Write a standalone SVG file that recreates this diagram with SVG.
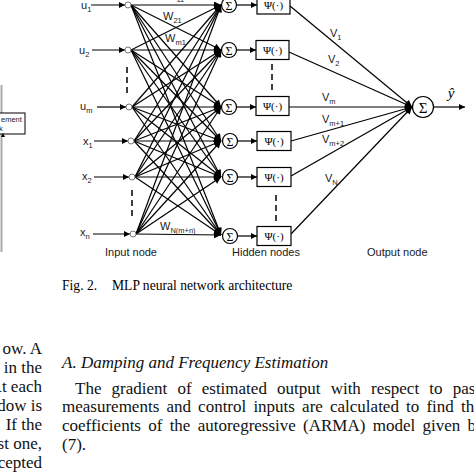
<svg xmlns="http://www.w3.org/2000/svg" width="474" height="474" viewBox="0 0 474 474">
<defs>
<style>
.ln{stroke:#000;stroke-width:1.2;fill:none}
.sans{font-family:"Liberation Sans",Arial,sans-serif;font-size:11px;fill:#1a1a1a}
.ser{font-family:"Liberation Serif","Times New Roman",serif;fill:#000}
.in{fill:#fff;stroke:#777;stroke-width:1}
.hc{fill:#fff;stroke:#000;stroke-width:1.2}
.box{fill:#fff;stroke:#000;stroke-width:1.2}
.dash{stroke:#000;stroke-width:1.5;stroke-dasharray:6 4;fill:none}
.body{font-family:"Liberation Serif","Times New Roman",serif;font-size:17px;fill:#111}
</style>
<marker id="ah" viewBox="0 0 10 10" refX="10" refY="5" markerWidth="8" markerHeight="6" markerUnits="userSpaceOnUse" orient="auto"><path d="M0,0 L10,5 L0,10 z" fill="#000"/></marker>
<marker id="ahb" viewBox="0 0 10 10" refX="10" refY="5" markerWidth="9" markerHeight="7" markerUnits="userSpaceOnUse" orient="auto"><path d="M0,0 L10,5 L0,10 z" fill="#000"/></marker>
</defs>
<rect width="474" height="474" fill="#fff"/>

<!-- left cut-off fragment -->
<g id="fragment">
<line x1="1.5" y1="85" x2="1.5" y2="252" stroke="#aaa" stroke-width="2"/>
<rect x="-6" y="113" width="31" height="21" fill="#fff" stroke="#000" stroke-width="1"/>
<text x="1" y="122" font-family="Liberation Sans,Arial,sans-serif" font-size="7.5" fill="#222">ement</text>
<text x="-1" y="131" font-family="Liberation Sans,Arial,sans-serif" font-size="7.5" fill="#222">k</text>
<path d="M1,137 L3,133 L5,137 z" fill="#000"/>
</g>

<!-- connectors -->
<g id="connectors">
<line class="ln" x1="131" y1="5" x2="221" y2="5" marker-end="url(#ahb)"/>
<line class="ln" x1="131" y1="5" x2="221" y2="50" marker-end="url(#ahb)"/>
<line class="ln" x1="131" y1="5" x2="221" y2="107" marker-end="url(#ahb)"/>
<line class="ln" x1="131" y1="5" x2="221" y2="141" marker-end="url(#ahb)"/>
<line class="ln" x1="131" y1="5" x2="221" y2="177" marker-end="url(#ahb)"/>
<line class="ln" x1="131" y1="5" x2="221" y2="235" marker-end="url(#ahb)"/>

<line class="ln" x1="131" y1="50" x2="221" y2="5" marker-end="url(#ahb)"/>
<line class="ln" x1="131" y1="50" x2="221" y2="50" marker-end="url(#ahb)"/>
<line class="ln" x1="131" y1="50" x2="221" y2="107" marker-end="url(#ahb)"/>
<line class="ln" x1="131" y1="50" x2="221" y2="141" marker-end="url(#ahb)"/>
<line class="ln" x1="131" y1="50" x2="221" y2="177" marker-end="url(#ahb)"/>
<line class="ln" x1="131" y1="50" x2="221" y2="235" marker-end="url(#ahb)"/>

<line class="ln" x1="132" y1="107" x2="221" y2="5" marker-end="url(#ahb)"/>
<line class="ln" x1="132" y1="107" x2="221" y2="50" marker-end="url(#ahb)"/>
<line class="ln" x1="132" y1="107" x2="221" y2="107" marker-end="url(#ahb)"/>
<line class="ln" x1="132" y1="107" x2="221" y2="141" marker-end="url(#ahb)"/>
<line class="ln" x1="132" y1="107" x2="221" y2="177" marker-end="url(#ahb)"/>
<line class="ln" x1="132" y1="107" x2="221" y2="235" marker-end="url(#ahb)"/>

<line class="ln" x1="134" y1="141" x2="221" y2="5" marker-end="url(#ahb)"/>
<line class="ln" x1="134" y1="141" x2="221" y2="50" marker-end="url(#ahb)"/>
<line class="ln" x1="134" y1="141" x2="221" y2="107" marker-end="url(#ahb)"/>
<line class="ln" x1="134" y1="141" x2="221" y2="141" marker-end="url(#ahb)"/>
<line class="ln" x1="134" y1="141" x2="221" y2="177" marker-end="url(#ahb)"/>
<line class="ln" x1="134" y1="141" x2="221" y2="235" marker-end="url(#ahb)"/>

<line class="ln" x1="135" y1="177" x2="221" y2="5" marker-end="url(#ahb)"/>
<line class="ln" x1="135" y1="177" x2="221" y2="50" marker-end="url(#ahb)"/>
<line class="ln" x1="135" y1="177" x2="221" y2="107" marker-end="url(#ahb)"/>
<line class="ln" x1="135" y1="177" x2="221" y2="141" marker-end="url(#ahb)"/>
<line class="ln" x1="135" y1="177" x2="221" y2="177" marker-end="url(#ahb)"/>
<line class="ln" x1="135" y1="177" x2="221" y2="235" marker-end="url(#ahb)"/>

<line class="ln" x1="136" y1="234" x2="221" y2="5" marker-end="url(#ahb)"/>
<line class="ln" x1="136" y1="234" x2="221" y2="50" marker-end="url(#ahb)"/>
<line class="ln" x1="136" y1="234" x2="221" y2="107" marker-end="url(#ahb)"/>
<line class="ln" x1="136" y1="234" x2="221" y2="141" marker-end="url(#ahb)"/>
<line class="ln" x1="136" y1="234" x2="221" y2="177" marker-end="url(#ahb)"/>
<line class="ln" x1="136" y1="234" x2="221" y2="235" marker-end="url(#ahb)"/>

<!-- input arrows -->
<line class="ln" x1="91" y1="5" x2="125" y2="5" marker-end="url(#ah)"/>
<line class="ln" x1="92" y1="50" x2="125" y2="50" marker-end="url(#ah)"/>
<line class="ln" x1="97" y1="107" x2="126" y2="107" marker-end="url(#ah)"/>
<line class="ln" x1="94" y1="141" x2="128" y2="141" marker-end="url(#ah)"/>
<line class="ln" x1="94" y1="177" x2="129" y2="177" marker-end="url(#ah)"/>
<line class="ln" x1="93" y1="234" x2="130" y2="234" marker-end="url(#ah)"/>

<!-- sigma to psi -->
<line class="ln" x1="237" y1="5" x2="257" y2="5" marker-end="url(#ah)"/>
<line class="ln" x1="237" y1="50" x2="256" y2="50" marker-end="url(#ah)"/>
<line class="ln" x1="237" y1="107" x2="256" y2="107" marker-end="url(#ah)"/>
<line class="ln" x1="238" y1="141" x2="257" y2="141" marker-end="url(#ah)"/>
<line class="ln" x1="238" y1="177" x2="257" y2="177" marker-end="url(#ah)"/>
<line class="ln" x1="238" y1="236" x2="257" y2="236" marker-end="url(#ah)"/>

<!-- psi to output -->
<line class="ln" x1="290" y1="6" x2="412" y2="107" marker-end="url(#ahb)"/>
<line class="ln" x1="289" y1="52" x2="412" y2="107" marker-end="url(#ahb)"/>
<line class="ln" x1="289" y1="107" x2="412" y2="107" marker-end="url(#ahb)"/>
<line class="ln" x1="291" y1="141" x2="412" y2="107" marker-end="url(#ahb)"/>
<line class="ln" x1="291" y1="176" x2="412" y2="107" marker-end="url(#ahb)"/>
<line class="ln" x1="291" y1="234" x2="412" y2="107" marker-end="url(#ahb)"/>

<!-- output arrow -->
<line class="ln" x1="434" y1="107" x2="465" y2="107" marker-end="url(#ah)"/>

<!-- dashed continuation marks -->
<line class="dash" x1="127" y1="67" x2="127" y2="96"/>
<line class="dash" x1="132" y1="190" x2="132" y2="220"/>
<line class="dash" x1="272" y1="64" x2="272" y2="92"/>
<line class="dash" x1="276" y1="195" x2="276" y2="222"/>
</g>

<!-- input nodes -->
<g id="in-u1"><circle class="in" cx="128" cy="5" r="3"/><text class="sans" x="81" y="9">u<tspan font-size="7.5" dy="2.5">1</tspan></text></g>
<g id="in-u2"><circle class="in" cx="128" cy="50" r="3"/><text class="sans" x="79" y="54">u<tspan font-size="7.5" dy="2.5">2</tspan></text></g>
<g id="in-um"><circle class="in" cx="129" cy="107" r="3"/><text class="sans" x="80" y="110">u<tspan font-size="7.5" dy="2.5">m</tspan></text></g>
<g id="in-x1"><circle class="in" cx="131" cy="141" r="3"/><text class="sans" x="83" y="145">x<tspan font-size="7.5" dy="2.5">1</tspan></text></g>
<g id="in-x2"><circle class="in" cx="132" cy="177" r="3"/><text class="sans" x="82" y="180">x<tspan font-size="7.5" dy="2.5">2</tspan></text></g>
<g id="in-xn"><circle class="in" cx="133" cy="234" r="3"/><text class="sans" x="80" y="236">x<tspan font-size="7.5" dy="2.5">n</tspan></text></g>

<!-- weight labels -->
<g id="weights">
<text class="sans" x="166" y="-1">W<tspan font-size="7.5" dy="2.5">11</tspan></text>
<text class="sans" x="163" y="20">W<tspan font-size="7.5" dy="2.5">21</tspan></text>
<text class="sans" x="165" y="42">W<tspan font-size="7.5" dy="2.5">m1</tspan></text>
<text class="sans" x="160" y="230">W<tspan font-size="7.5" dy="2.5">N(m+n)</tspan></text>
</g>

<!-- hidden nodes -->
<g id="hid-1"><circle class="hc" cx="229" cy="5" r="7.5"/><text class="ser" x="229" y="9.5" font-size="12" text-anchor="middle">Σ</text><rect class="box" x="257" y="-5" width="33" height="19"/><text class="ser" x="273.5" y="9" font-size="11" text-anchor="middle">Ψ(·)</text></g>
<g id="hid-2"><circle class="hc" cx="229" cy="50" r="7.5"/><text class="ser" x="229" y="54.5" font-size="12" text-anchor="middle">Σ</text><rect class="box" x="256" y="40.5" width="33" height="19"/><text class="ser" x="272.5" y="54" font-size="11" text-anchor="middle">Ψ(·)</text></g>
<g id="hid-m"><circle class="hc" cx="229" cy="107" r="7.5"/><text class="ser" x="229" y="111.5" font-size="12" text-anchor="middle">Σ</text><rect class="box" x="256" y="96.5" width="33" height="19"/><text class="ser" x="272.5" y="110" font-size="11" text-anchor="middle">Ψ(·)</text></g>
<g id="hid-m1"><circle class="hc" cx="230" cy="141" r="7.5"/><text class="ser" x="230" y="145.5" font-size="12" text-anchor="middle">Σ</text><rect class="box" x="257" y="131.5" width="34" height="19"/><text class="ser" x="274" y="145" font-size="11" text-anchor="middle">Ψ(·)</text></g>
<g id="hid-m2"><circle class="hc" cx="230" cy="177" r="7.5"/><text class="ser" x="230" y="181.5" font-size="12" text-anchor="middle">Σ</text><rect class="box" x="257" y="167.5" width="34" height="19"/><text class="ser" x="274" y="181" font-size="11" text-anchor="middle">Ψ(·)</text></g>
<g id="hid-N"><circle class="hc" cx="230" cy="236" r="7.5"/><text class="ser" x="230" y="240.5" font-size="12" text-anchor="middle">Σ</text><rect class="box" x="257" y="226.5" width="34" height="19"/><text class="ser" x="274" y="240" font-size="11" text-anchor="middle">Ψ(·)</text></g>

<!-- output weights -->
<g id="vlabels">
<text class="sans" x="330" y="37">V<tspan font-size="7.5" dy="2.5">1</tspan></text>
<text class="sans" x="328" y="63">V<tspan font-size="7.5" dy="2.5">2</tspan></text>
<text class="sans" x="322" y="101">V<tspan font-size="7.5" dy="2.5">m</tspan></text>
<text class="sans" x="322" y="123">V<tspan font-size="7.5" dy="2.5">m+1</tspan></text>
<text class="sans" x="322" y="143">V<tspan font-size="7.5" dy="2.5">m+2</tspan></text>
<text class="sans" x="325" y="182">V<tspan font-size="7.5" dy="2.5">N</tspan></text>
</g>

<!-- output node -->
<g id="out"><circle class="hc" cx="423" cy="107" r="10.5"/><text class="ser" x="423" y="112.5" font-size="15" text-anchor="middle">Σ</text><text class="ser" x="451" y="98" font-size="15" font-style="italic" text-anchor="middle">ŷ</text></g>

<!-- layer labels -->
<g id="layer-labels">
<text class="sans" x="105" y="256">Input node</text>
<text class="sans" x="232" y="256">Hidden nodes</text>
<text class="sans" x="367" y="256">Output node</text>
</g>

<!-- caption and body text -->
<g id="caption">
<text class="ser" x="62" y="290" font-size="13.6">Fig. 2.</text>
<text class="ser" x="112" y="290" font-size="13.6">MLP neural network architecture</text>
</g>
<g id="leftcol" class="body" text-anchor="end">
<text x="42" y="354">ow. A</text>
<text x="42" y="373">in the</text>
<text x="42" y="392">At each</text>
<text x="42" y="411">dow is</text>
<text x="42" y="430">If the</text>
<text x="42" y="449">st one,</text>
<text x="42" y="468">cepted</text>
</g>
<g id="rightcol" class="body">
<text x="62" y="368" font-style="italic">A. Damping and Frequency Estimation</text>
<text x="75" y="394" word-spacing="5.9">The gradient of estimated output with respect to past</text>
<text x="62" y="412" word-spacing="2.9">measurements and control inputs are calculated to find the</text>
<text x="62" y="431" word-spacing="3">coefficients of the autoregressive (ARMA) model given by</text>
<text x="62" y="450">(7).</text>
</g>
</svg>
